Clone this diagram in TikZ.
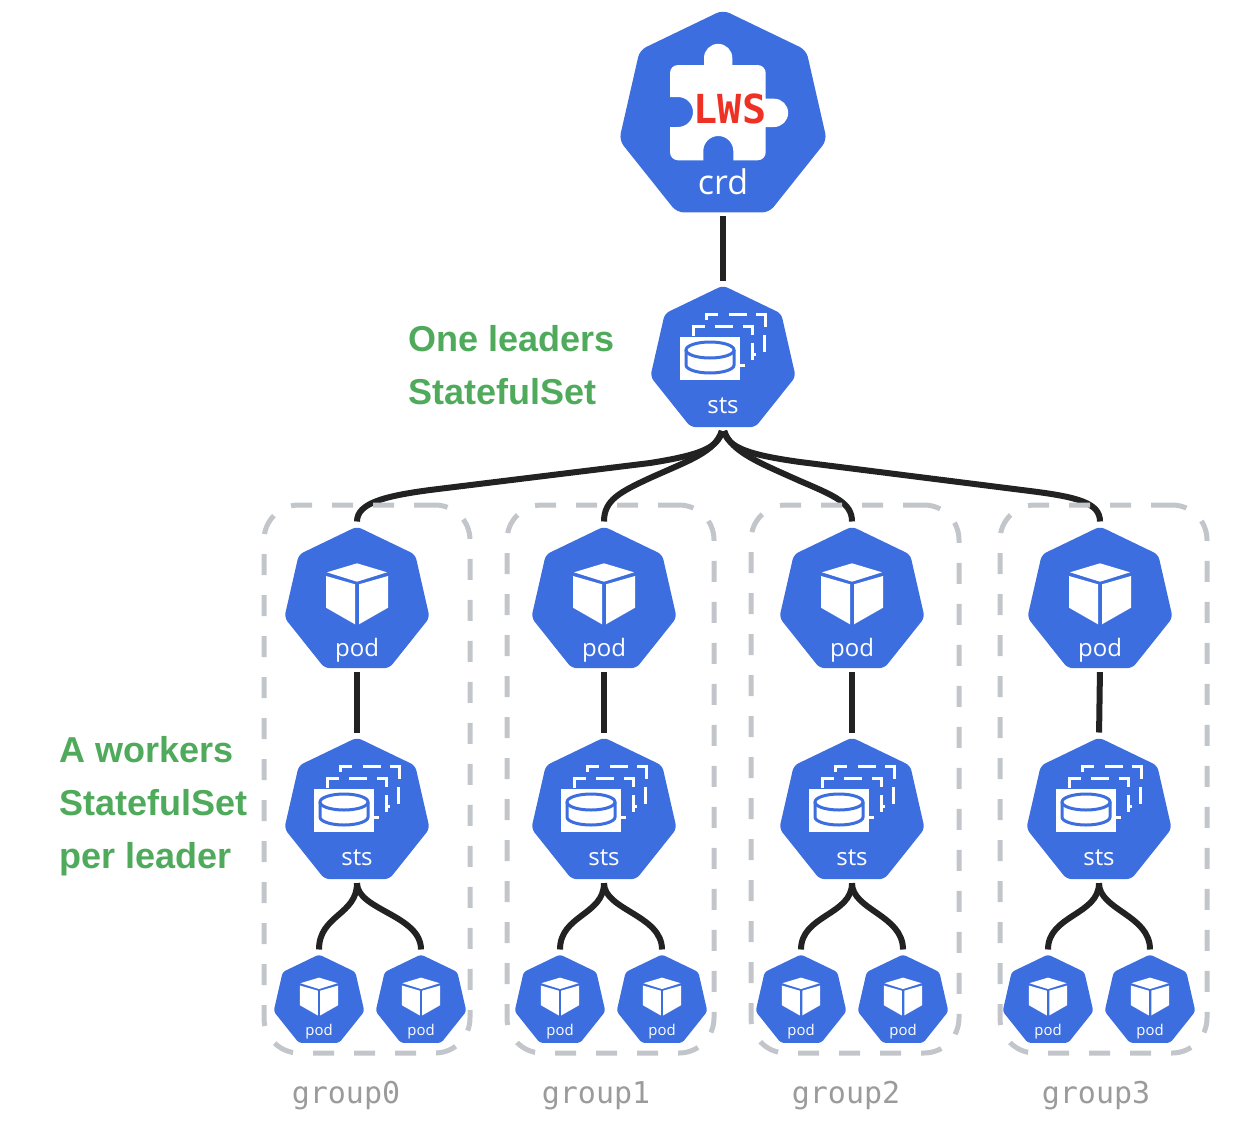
\documentclass[tikz,border=0pt]{standalone}
\usepackage{fontspec}
\setmainfont{Open Sans}
\newfontfamily\greenfont{Liberation Sans}
\newfontfamily\monofont{DejaVu Sans Mono}
\RequirePackage{tikz}
\usetikzlibrary{shapes.geometric}
\definecolor{kubeblue}{HTML}{3D6EE0}
\definecolor{notegreen}{HTML}{4FAA5C}
\definecolor{boxgray}{HTML}{C2C6CA}
\definecolor{groupgray}{HTML}{9B9B9B}
\definecolor{lwsred}{HTML}{EE3124}
\definecolor{linkblack}{HTML}{222222}
\tikzstyle{kubelabel}=[text=white,inner sep=0pt,transform shape]
\tikzstyle{card}=[white,line width=3]
\tikzset{
  podicon/.pic={
    \fill[white] (0,-37.7) -- (30,-28.7) -- (0,-19.3) -- (-30,-28.7) -- cycle;
    \fill[white] (-31,-25) -- (-2,-16.7) -- (-2,23.3) -- (-31,6.7) -- cycle;
    \fill[white] (2,-16.7) -- (31,-25) -- (31,6.7) -- (2,23.3) -- cycle;
    \node[kubelabel,font=\fontsize{24}{24}\selectfont] (-label) at (0,49) {pod};
  },
  stsicon/.pic={
    \draw[card] (-29.7,-24.3) -- (-29.7,-33.3) -- (-18,-33.3);
    \draw[card] (-8,-33.3) -- (10.3,-33.3);
    \draw[card] (20.3,-33.3) -- (29.7,-33.3) -- (29.7,-25);
    \draw[card] (29.7,-16.7) -- (29.7,0);
    \draw[card] (29.7,-5.7) -- (33,-5.7);
    \draw[card] (17,5.7) -- (22,5.7);
    \draw[card] (-16.3,-40) -- (-16.3,-45.7) -- (-4.7,-45.7);
    \draw[card] (6.3,-45.7) -- (23.7,-45.7);
    \draw[card] (33,-45.7) -- (42,-45.7) -- (42,-33.3);
    \draw[card] (41,-25) -- (41,-8.3);
    \fill[white] (-43,-23) rectangle (17,20);
    \draw[kubeblue,line width=3] (-37,-10) -- (-37,5) arc[start angle=180,end angle=0,x radius=24,y radius=8] -- (11,-10);
    \draw[kubeblue,line width=3] (-13,-10) ellipse [x radius=24,y radius=8];
    \node[kubelabel,font=\fontsize{24}{24}\selectfont] (-label) at (0,46) {sts};
  },
  crdicon/.pic={
    \fill[white] (-45,-53) -- (-19,-53) -- (-19,-60) arc[start angle=180,end angle=360,radius=14.15]
      -- (9.3,-53) -- (34.7,-53) arc[start angle=-90,end angle=0,radius=8]
      -- (42.7,-19.3) -- (51,-19.3) arc[start angle=-90,end angle=90,radius=14.15]
      -- (42.7,9) -- (42.7,34.3) arc[start angle=0,end angle=90,radius=8]
      -- (10.3,42.3) -- (10.3,33) arc[start angle=0,end angle=-180,radius=15]
      -- (-19.7,42.3) -- (-45,42.3) arc[start angle=90,end angle=180,radius=8]
      -- (-53,9) -- (-45,9) arc[start angle=90,end angle=-90,radius=15]
      -- (-53,-21) -- (-53,-45) arc[start angle=180,end angle=270,radius=8] -- cycle;
    \node[text=lwsred,inner sep=0pt,font=\monofont\bfseries\fontsize{40}{40}\selectfont] (-lws) at (7,-9) {LWS};
    \node[kubelabel,font=\fontsize{34}{34}\selectfont] (-label) at (0,64) {crd};
  }
}
\begin{document}
\begin{tikzpicture}[x=1pt,y=-1pt]
  \tikzstyle{hept}=[regular polygon,regular polygon sides=7,fill=kubeblue,inner sep=0pt,outer sep=0pt,rounded corners=5]
  \tikzstyle{bighept}=[hept,minimum size=149]
  \tikzstyle{smallhept}=[hept,minimum size=93,rounded corners=3]
  \tikzstyle{link}=[linkblack,line width=6,shorten <=4,shorten >=5]
  \tikzstyle{groupbox}=[draw=boxgray,line width=5,dash pattern=on 21 off 20,rounded corners=35,minimum height=548,inner sep=0pt,outer sep=0pt]
  \tikzstyle{grouplabel}=[text=groupgray,inner sep=0pt,font=\monofont\fontsize{30}{30}\selectfont]
  \tikzstyle{note}=[text=notegreen,inner sep=0pt,align=left,anchor=north west,font=\greenfont\bfseries\fontsize{36}{53}\selectfont]
  \useasboundingbox (0,0) rectangle (1250,1138);
  \node (crd) at (723,116.5) [hept,minimum size=213,rounded corners=7] {};
  \pic (crdmark) at ([yshift=-1.5]crd) {crdicon};
  \node (leaders) at (723,360) [bighept] {};
  \pic (leadersmark) at (leaders) {stsicon};
  \node (pod0) at (357,601) [bighept] {};
  \pic (pod0mark) at (pod0) {podicon};
  \node (pod1) at (604,601) [bighept] {};
  \pic (pod1mark) at (pod1) {podicon};
  \node (pod2) at (852,601) [bighept] {};
  \pic (pod2mark) at (pod2) {podicon};
  \node (pod3) at (1100,601) [bighept] {};
  \pic (pod3mark) at (pod3) {podicon};
  \node (sts0) at (357,812) [bighept] {};
  \pic (sts0mark) at (sts0) {stsicon};
  \node (sts1) at (604,812) [bighept] {};
  \pic (sts1mark) at (sts1) {stsicon};
  \node (sts2) at (852,812) [bighept] {};
  \pic (sts2mark) at (sts2) {stsicon};
  \node (sts3) at (1099,812) [bighept] {};
  \pic (sts3mark) at (sts3) {stsicon};
  \node (worker0a) at (319,1001) [smallhept] {};
  \pic[scale=.62] (worker0amark) at (worker0a) {podicon};
  \node (worker0b) at (421,1001) [smallhept] {};
  \pic[scale=.62] (worker0bmark) at (worker0b) {podicon};
  \node (worker1a) at (560,1001) [smallhept] {};
  \pic[scale=.62] (worker1amark) at (worker1a) {podicon};
  \node (worker1b) at (662,1001) [smallhept] {};
  \pic[scale=.62] (worker1bmark) at (worker1b) {podicon};
  \node (worker2a) at (801,1001) [smallhept] {};
  \pic[scale=.62] (worker2amark) at (worker2a) {podicon};
  \node (worker2b) at (903,1001) [smallhept] {};
  \pic[scale=.62] (worker2bmark) at (worker2b) {podicon};
  \node (worker3a) at (1048,1001) [smallhept] {};
  \pic[scale=.62] (worker3amark) at (worker3a) {podicon};
  \node (worker3b) at (1150,1001) [smallhept] {};
  \pic[scale=.62] (worker3bmark) at (worker3b) {podicon};
  \draw [link] (crd.south) -- (leaders.north);
  \draw [link] (leaders.south) .. controls (718,448) and (700,455) .. (650,463) -- (430,490) .. controls (385,496) and (357,503) .. (pod0.north);
  \draw [link] (leaders.south) .. controls (715,452) and (690,460) .. (650,478) .. controls (620,492) and (604,500) .. (pod1.north);
  \draw [link] (leaders.south) .. controls (731,452) and (760,463) .. (800,481) .. controls (835,496) and (852,503) .. (pod2.north);
  \draw [link] (leaders.south) .. controls (728,448) and (750,455) .. (800,462) -- (1030,491) .. controls (1078,497) and (1100,503) .. (pod3.north);
  \draw [link] (pod0.south) -- (sts0.north);
  \draw [link] (pod1.south) -- (sts1.north);
  \draw [link] (pod2.south) -- (sts2.north);
  \draw [link] (pod3.south) -- (sts3.north);
  \draw [link] (sts0.south) .. controls (357,915) and (319,915) .. (worker0a.north);
  \draw [link] (sts0.south) .. controls (357,910) and (421,915) .. (worker0b.north);
  \draw [link] (sts1.south) .. controls (604,915) and (560,915) .. (worker1a.north);
  \draw [link] (sts1.south) .. controls (604,910) and (662,915) .. (worker1b.north);
  \draw [link] (sts2.south) .. controls (852,915) and (801,915) .. (worker2a.north);
  \draw [link] (sts2.south) .. controls (852,910) and (903,915) .. (worker2b.north);
  \draw [link] (sts3.south) .. controls (1099,915) and (1048,915) .. (worker3a.north);
  \draw [link] (sts3.south) .. controls (1099,910) and (1150,915) .. (worker3b.north);
  \node (group0box) at (367,779) [groupbox,minimum width=206] {};
  \node (group1box) at (610.5,779) [groupbox,minimum width=207] {};
  \node (group2box) at (855,779) [groupbox,minimum width=208] {};
  \node (group3box) at (1103.5,779) [groupbox,minimum width=207] {};
  \node (group0label) at (346,1096) [grouplabel] {group0};
  \node (group1label) at (596,1096) [grouplabel] {group1};
  \node (group2label) at (846,1096) [grouplabel] {group2};
  \node (group3label) at (1096,1096) [grouplabel] {group3};
  \node (leadersnote) at (408,325) [note] {One leaders\\StatefulSet};
  \node (workersnote) at (59,736) [note] {A workers\\StatefulSet\\per leader};
\end{tikzpicture}
\end{document}
